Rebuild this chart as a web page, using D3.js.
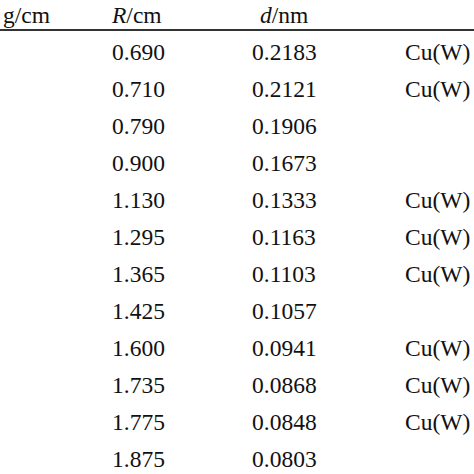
<!DOCTYPE html>
<html><head><meta charset="utf-8">
<script src="https://cdn.jsdelivr.net/npm/d3@7"></script>
<style>body{margin:0;background:#fff}</style></head>
<body><svg id="c" width="474" height="474"></svg>
<script>
const R = ["0.690","0.710","0.790","0.900","1.130","1.295","1.365","1.425","1.600","1.735","1.775","1.875"];
const D = ["0.2183","0.2121","0.1906","0.1673","0.1333","0.1163","0.1103","0.1057","0.0941","0.0868","0.0848","0.0803"];
const M = ["Cu(W)","Cu(W)","","","Cu(W)","Cu(W)","Cu(W)","","Cu(W)","Cu(W)","Cu(W)",""];
const svg = d3.select("#c");
const font = "'Liberation Serif','Times New Roman',serif";
const y = d3.scalePoint().domain(d3.range(R.length)).range([52, 459]);
const g = svg.append("g").attr("font-family", font).attr("font-size", 23.5).attr("fill", "#111");
const h = g.append("text").attr("x", 3).attr("y", 15).attr("dominant-baseline","central");
h.text("g/cm");
const hr = g.append("text").attr("x", 112).attr("y", 15).attr("dominant-baseline","central");
hr.append("tspan").attr("font-style","italic").text("R");
hr.append("tspan").text("/cm");
const hd = g.append("text").attr("x", 260).attr("y", 15).attr("dominant-baseline","central");
hd.append("tspan").attr("font-style","italic").text("d");
hd.append("tspan").text("/nm");
svg.append("line").attr("x1",0).attr("x2",474).attr("y1",30).attr("y2",30).attr("stroke","#333").attr("stroke-width",1.8);
g.selectAll(".r").data(R).join("text").attr("x",112).attr("y",(d,i)=>y(i)).attr("dominant-baseline","central").text(d=>d);
g.selectAll(".d").data(D).join("text").attr("x",252).attr("y",(d,i)=>y(i)).attr("dominant-baseline","central").text(d=>d);
g.selectAll(".m").data(M).join("text").attr("x",405).attr("y",(d,i)=>y(i)).attr("dominant-baseline","central").text(d=>d);
</script></body></html>
